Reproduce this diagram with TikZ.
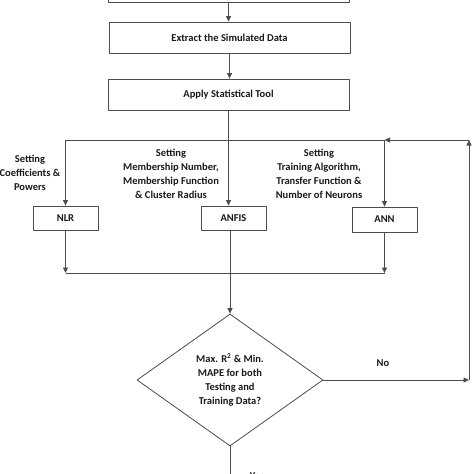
\documentclass[tikz,border=0pt]{standalone}
\usepackage{fontspec}
\setmainfont{Carlito}
\usetikzlibrary{shapes.geometric,arrows.meta}

\begin{document}
\begin{tikzpicture}[x=1pt,y=-1pt,line join=round,>={Triangle[length=5.5pt,width=5pt]},
  every node/.style={font=\fontsize{10.5}{14}\selectfont\bfseries,text=black!90},
  box/.style={draw=black!70,line width=0.8pt,fill=white,inner sep=0pt},
  link/.style={draw=black!70,line width=0.8pt},
  ann/.style={align=center,inner sep=0pt}]
\useasboundingbox (0,0) rectangle (474,474);
% process boxes
\node[box,minimum width=241pt,minimum height=32pt] (top) at (228.5,-14) {};
\node[box,minimum width=241pt,minimum height=31pt] (extract) at (229.5,37.5) {Extract the Simulated Data};
\node[box,minimum width=241pt,minimum height=31pt] (apply) at (228.5,94.5) {Apply Statistical Tool};
\node[box,minimum width=65pt,minimum height=24pt] (nlr) at (65.5,218) {NLR};
\node[box,minimum width=65pt,minimum height=24pt] (anfis) at (233.5,218) {ANFIS};
\node[box,minimum width=65pt,minimum height=25pt] (ann) at (384.5,219.5) {ANN};
\node[box,diamond,aspect=1.41,minimum width=186pt,minimum height=132pt,align=center] (check) at (230,380)
  {Max. R\textsuperscript{2} \& Min.\\MAPE for both\\Testing and\\Training Data?};
% settings
\node[ann] (setNLR) at (30,173) {Setting\\Coefficients \&\\Powers};
\node[ann] (setANFIS) at (171,174) {Setting\\Membership Number,\\Membership Function\\\& Cluster Radius};
\node[ann] (setANN) at (319,174) {Setting\\Training Algorithm,\\Transfer Function \&\\Number of Neurons};
\node[ann] (no) at (383,363) {No};
\node[ann] (yes) at (257,476.5) {Yes};
% loop points
\coordinate (backRight) at (469,380);
\coordinate (backTop) at (469,140);
\coordinate (annIn) at (ann.north |- backTop);
\coordinate (nlrIn) at (nlr.north |- backTop);
\coordinate (nlrOut) at (nlr.south |- 0,273);
\coordinate (annOut) at (ann.south |- nlrOut);
\coordinate (yesEnd) at (check.south |- 0,490);
% connectors
\draw[link,->] (top.south) -- (top.south |- extract.north);
\draw[link,->] (extract.south) -- (extract.south |- apply.north);
\draw[link,->] (apply.south) -- (apply.south |- anfis.north);
\draw[link,->] (check.east) -- (backRight);
\draw[link,->] (backRight) -- (backTop);
\draw[link,->] (backTop) -- (annIn);
\draw[link] (annIn) -- (nlrIn);
\draw[link,->] (nlrIn) -- (nlr.north);
\draw[link,->] (annIn) -- (ann.north);
\draw[link,->] (nlr.south) -- (nlrOut);
\draw[link,->] (ann.south) -- (annOut);
\draw[link] (nlrOut) -- (annOut);
\draw[link,->] (anfis.south -| check.north) -- (check.north);
\draw[link] (check.south) -- (yesEnd);
\end{tikzpicture}
\end{document}
